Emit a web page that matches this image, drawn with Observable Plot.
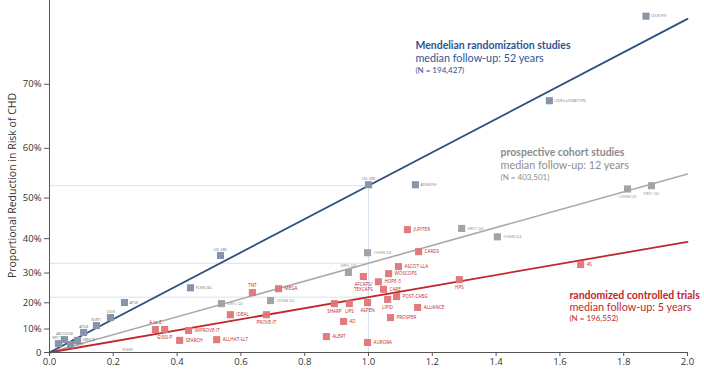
<!DOCTYPE html>
<html><head><meta charset="utf-8">
<script src="https://cdn.jsdelivr.net/npm/d3@7"></script>
<script src="https://cdn.jsdelivr.net/npm/@observablehq/plot@0.6"></script>
<style>
html,body{margin:0;padding:0;background:#fff;}
#chart svg{display:block;}
</style></head><body><div id="chart"></div>
<script>
// ---- data (x: absolute LDL-C reduction in mmol/L ; reduction: proportional reduction in CHD risk) ----
const mrNames = ["LDLR (FH)","LDLR (rs2228671PS)","LDL GRS","APOB (FH)","LDL GRS ","PCSK9 46L","APOE","LDLR","SORT1","APOB","ABCG5/G8","NPC1L1","CETP","HMGCR","PCSK9"];
const mrX = [1.87,1.567,1.00,1.147,0.536,0.442,0.235,0.191,0.147,0.107,0.047,0.028,0.066,0.088,0.213];
const mrReduction = [0.779,0.677,0.529,0.529,0.353,0.252,0.201,0.145,0.114,0.086,0.056,0.039,0.035,0.053,0.010];

const cohortNames = ["ERFC Q5","CHGN Q5","CHGN Q4","ERFC Q4","CHGN Q3","ERFC Q3","CHGN Q2","ERFC Q2"];
const cohortX = [1.887,1.812,1.404,1.292,0.997,0.937,0.693,0.539];
const cohortReduction = [0.527,0.520,0.405,0.427,0.361,0.302,0.208,0.197];

const rctNames = ["4S","HPS","JUPITER","CARDS","ASCOT-LLA","WOSCOPS","AFCAPS/\nTEXCAPS","HOPE-3","CARE","POST-CABG","LIPID","ALLIANCE","PROSPER","ASPEN","LIPS","SHARP","4D","ALERT","AURORA","MEGA","TNT","IDEAL","PROVE-IT","IMPROVE-IT","A to Z","GISSI-P","SEARCH","ALLHAT-LLT"];
const rctX = [1.665,1.285,1.122,1.157,1.094,1.063,0.984,1.031,1.047,1.088,1.060,1.154,1.069,0.997,0.940,0.893,0.922,0.868,0.997,0.718,0.636,0.567,0.680,0.436,0.332,0.361,0.408,0.524];
const rctReduction = [0.326,0.279,0.424,0.364,0.320,0.298,0.289,0.272,0.247,0.222,0.212,0.183,0.145,0.201,0.197,0.197,0.130,0.069,0.044,0.249,0.236,0.156,0.156,0.094,0.098,0.098,0.053,0.056];

// fitted proportional reduction per 1 mmol/L (lines through origin)
const fitNames = ["Mendelian randomization studies","prospective cohort studies","randomized controlled trials"];
const fitReductionPerUnit = [0.527,0.330,0.220];
const followUp = ["median follow-up: 52 years","median follow-up: 12 years","median follow-up: 5 years"];
const sampleSize = ["(N = 194,427)","(N = 403,501)","(N = 196,552)"];

const xTicks = [0,0.2,0.4,0.6,0.8,1.0,1.2,1.4,1.6,1.8,2.0];
const yTickReductions = [0,0.1,0.2,0.3,0.4,0.5,0.6,0.7];
const yTopReduction = 0.794;

// ---- styling / placement (kept separate from data) ----
const colors = {mrLine:"#2d5080", mrDot:"#8794aa", coLine:"#a9a9a9", coDot:"#a3a3a3", rctLine:"#c1272d", rctDot:"#e07476", refLine:"#d6e3ee", rctText:"#c1272d", mrText:"#2d5596", coText:"#8c8c8c"};
const labelSide = {
  "HPS":"below","AFCAPS/\nTEXCAPS":"below","LIPID":"below","ASPEN":"below","LIPS":"below","SHARP":"below","TNT":"above","PROVE-IT":"below","A to Z":"above","GISSI-P":"below",
  "LDL GRS":"above","LDL GRS ":"above","LDLR":"above","SORT1":"above","APOB":"above","ABCG5/G8":"above","NPC1L1":"above",
  "ERFC Q5":"below","CHGN Q5":"below","ERFC Q3":"above"
};
const annotAnchor = [{x:1.147, p:0.748},{x:1.414, p:0.592},{x:1.630, p:0.226}];

const ly = p => -Math.log(1 - p);
const mk = (names, xs, ps) => names.map((label, i) => ({label, x: xs[i], y: ly(ps[i]), side: labelSide[label] || "right"}));
const mr = mk(mrNames, mrX, mrReduction);
const co = mk(cohortNames, cohortX, cohortReduction);
const rct = mk(rctNames, rctX, rctReduction);

const xDomain = [xTicks[0], xTicks[xTicks.length-1]];
const fitLines = fitReductionPerUnit.map((p, i) => xDomain.map(x => ({x, y: x * ly(p), i})));
const refRows = fitReductionPerUnit.map(p => ({y: ly(p)}));

function labels(data, color, size, off) {
  const base = {x:"x", y:"y", text:"label", fill:color, fontSize:size, fontFamily:"Open Sans"};
  return [
    Plot.text(data.filter(d => d.side === "right"), {...base, textAnchor:"start", dx:off}),
    Plot.text(data.filter(d => d.side === "above"), {...base, lineAnchor:"bottom", dy:-off+0.5}),
    Plot.text(data.filter(d => d.side === "below"), {...base, lineAnchor:"top", dy:off-0.5, lineHeight:1.2})
  ];
}

const ann = (i, color) => {
  const a = [{x: annotAnchor[i].x, y: ly(annotAnchor[i].p)}];
  return [
    Plot.text(a, {x:"x", y:"y", text:() => fitNames[i], textAnchor:"start", fill:color, fontWeight:"bold", fontSize:10.5, fontFamily:"Lato"}),
    Plot.text(a, {x:"x", y:"y", text:() => followUp[i], textAnchor:"start", fill:color, fontSize:10.8, fontFamily:"Lato", dy:i===2?12:13}),
    Plot.text(a, {x:"x", y:"y", text:() => sampleSize[i], textAnchor:"start", fill:color, fontSize:8, fontFamily:"Lato", dy:i===2?23:25})
  ];
};

const chart = Plot.plot({
  width: 704, height: 370,
  marginLeft: 49, marginRight: 17, marginTop: 0, marginBottom: 18,
  style: {fontFamily: "Open Sans", background: "#fff", color: "#333"},
  x: {domain: xDomain},
  y: {domain: [0, ly(yTopReduction)]},
  marks: [
    Plot.ruleY(refRows, {y:"y", x1:0, x2:1, stroke:colors.refLine, strokeWidth:1}),
    Plot.ruleX([1], {x:d=>d, y1:0, y2:ly(fitReductionPerUnit[0]), stroke:colors.refLine, strokeWidth:1}),
    Plot.line(fitLines[1], {x:"x", y:"y", stroke:colors.coLine, strokeWidth:1.6}),
    Plot.line(fitLines[2], {x:"x", y:"y", stroke:colors.rctLine, strokeWidth:1.8}),
    Plot.line(fitLines[0], {x:"x", y:"y", stroke:colors.mrLine, strokeWidth:1.8}),
    Plot.dot(mr.filter(d => d.label !== "PCSK9"), {x:"x", y:"y", symbol:"square", r:4, fill:colors.mrDot, stroke:"none"}),
    Plot.dot(co, {x:"x", y:"y", symbol:"square", r:4, fill:colors.coDot, stroke:"none"}),
    Plot.dot(rct, {x:"x", y:"y", symbol:"square", r:4, fill:colors.rctDot, fillOpacity:0.95, stroke:"none"}),
    ...labels(mr, "#6a6f7a", 3.4, 5),
    ...labels(co, "#8a8a8a", 4, 6),
    ...labels(rct, colors.rctText, 4.6, 6),
    ...ann(0, colors.mrText),
    ...ann(1, colors.coText),
    ...ann(2, colors.rctText),
    Plot.ruleY([0], {stroke:"#555", strokeWidth:1}),
    Plot.ruleX([0], {stroke:"#555", strokeWidth:1}),
    Plot.axisX({ticks: xTicks, tickFormat: d3.format(".1f"), tickSize: 4, tickPadding: 2, fontSize: 9.5, label: null, stroke:"#555"}),
    Plot.axisY({ticks: yTickReductions.map(ly), tickFormat: v => { const p = 1 - Math.exp(-v); return p < 0.01 ? "0" : Math.round(p*100) + "%"; }, tickSize: 5, tickPadding: 3, fontSize: 9.5, label: null, stroke:"#555"}),
    Plot.text(["Proportional Reduction in Risk of CHD"], {frameAnchor:"left", text:d=>d, textAnchor:"middle", rotate:-90, dx:-37, dy:9, fontSize:10.5, fill:"#333"})
  ]
});
document.getElementById("chart").appendChild(chart);
</script></body></html>
